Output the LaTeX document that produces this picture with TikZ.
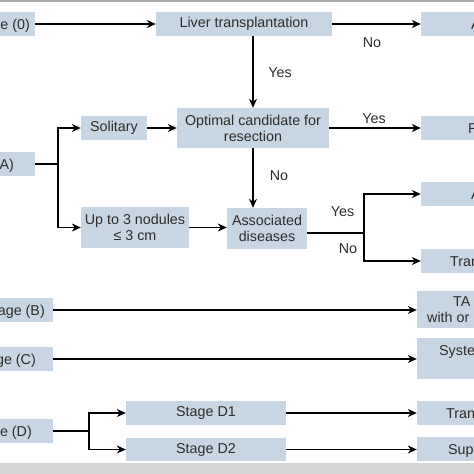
\documentclass[tikz,border=0pt]{standalone}
\usepackage{fontspec}
\setmainfont{Liberation Sans}
\usetikzlibrary{arrows.meta,calc}
\definecolor{boxfill}{RGB}{200,213,226}
\definecolor{txt}{RGB}{45,45,45}
\definecolor{bandtop}{RGB}{170,170,170}
\definecolor{bandbot}{RGB}{214,214,214}
\tikzset{
  box/.style={fill=boxfill, draw=none, inner sep=0pt, text=txt, align=center,
    font=\fontsize{14.3}{16}\selectfont},
  frag/.style={inner sep=0pt, text=txt, font=\fontsize{14.3}{16}\selectfont,
    text height=13.2pt, text depth=3pt},
  lab/.style={inner sep=0pt, text=txt, font=\fontsize{14.3}{16}\selectfont},
  arr/.style={-{Stealth[length=9pt,width=8pt]}, line width=1.2pt, black},
  ln/.style={line width=1.2pt, black},
}
\begin{document}
\begin{tikzpicture}[x=1pt,y=-1pt]
\useasboundingbox (0,0) rectangle (474,474);
\begin{scope}
\clip (0,0) rectangle (474,474);
\fill[white] (0,0) rectangle (474,474);
\fill[bandtop] (0,0) rectangle (474,2);
\fill[bandbot] (0,463) rectangle (474,474);

% centre boxes
\node[box, minimum width=176pt, minimum height=24pt] (liver) at (244,24) {Liver transplantation};
\node[box, minimum width=66pt, minimum height=24pt] (sol) at (114,128) {Solitary};
\node[box, minimum width=152pt, minimum height=40pt] (opt) at (253,128) {Optimal candidate for\\resection};
\node[box, minimum width=108pt, minimum height=41pt] (up3) at (135,227.5) {Up to 3 nodules\\≤ 3 cm};
\node[box, minimum width=80pt, minimum height=41pt] (assoc) at (267,228.5) {Associated\\diseases};
\node[box, minimum width=160pt, minimum height=24pt] (d1) at (206,413) {Stage D1};
\node[box, minimum width=160pt, minimum height=23pt] (d2) at (206,449.5) {Stage D2};

% left (cropped) boxes
\node[box, minimum width=95pt, minimum height=24pt] (s0) at (-12.5,24) {};
\node[box, minimum width=95pt, minimum height=24pt] (sA) at (-12.5,164) {};
\node[box, minimum width=113pt, minimum height=24pt] (sB) at (-3.5,310) {};
\node[box, minimum width=113pt, minimum height=24pt] (sC) at (-3.5,359) {};
\node[box, minimum width=113pt, minimum height=24pt] (sD) at (-3.5,431) {};
\node[frag, anchor=east] (f0) at (30,24) {e (0)};
\node[frag, anchor=east] (fA) at (14,164) {A)};
\node[frag, anchor=east] (fB) at (45,310) {age (B)};
\node[frag, anchor=east] (fC) at (36,359) {ge (C)};
\node[frag, anchor=east] (fD) at (32,431) {ge (D)};

% right (cropped) boxes
\node[box, minimum width=119pt, minimum height=24pt] (r0) at (480.5,24) {};
\node[box, minimum width=119pt, minimum height=24pt] (r1) at (480.5,128) {};
\node[box, minimum width=119pt, minimum height=24pt] (r2) at (480.5,194) {};
\node[box, minimum width=119pt, minimum height=24pt] (r3) at (480.5,261) {};
\node[box, minimum width=123pt, minimum height=37pt] (rB) at (478.5,309.5) {};
\node[box, minimum width=123pt, minimum height=41pt] (rC) at (478.5,358.5) {};
\node[box, minimum width=123pt, minimum height=24pt] (rD1) at (478.5,413) {};
\node[box, minimum width=123pt, minimum height=24pt] (rD2) at (478.5,449) {};
\node[frag, anchor=west] (g0) at (471,24) {A};
\node[frag, anchor=west] (g1) at (468,128) {F};
\node[frag, anchor=west] (g2) at (471,194) {A};
\node[frag, anchor=west] (g3) at (450,261) {Tran};
\node[frag, anchor=west] (gB1) at (453,301) {TA};
\node[frag, anchor=west] (gB2) at (427,317) {with or};
\node[frag, anchor=west] (gC) at (439,350) {Syste};
\node[frag, anchor=west] (gD1) at (446,413) {Tran};
\node[frag, anchor=west] (gD2) at (448,449) {Sup};

% labels
\node[lab] (no1) at (372,42.5) {No};
\node[lab] (yes1) at (280,73) {Yes};
\node[lab] (yes2) at (374,118.5) {Yes};
\node[lab] (no2) at (279,176) {No};
\node[lab] (yes3) at (342.5,212) {Yes};
\node[lab] (no3) at (348,249) {No};

% connectors
\draw[arr] (s0.east) -- (liver.west);
\draw[arr] (liver.east) -- (r0.west);
\draw[arr] (opt.north |- liver.south) -- (opt.north);
\draw[arr] (sol.east) -- (opt.west);
\draw[arr] (opt.east) -- (r1.west);
\draw[arr] (opt.south) -- (opt.south |- assoc.north);

\coordinate (bA) at (58,164);
\draw[ln] (sA.east) -- (bA);
\draw[arr] (bA) |- (sol.west);
\draw[arr] (bA) |- (up3.west);
\draw[arr] (up3.east) -- (up3.east -| assoc.west);

\coordinate (bB) at (364,233);
\draw[ln] (assoc.east |- bB) -- (bB);
\draw[arr] (bB) |- (r2.west);
\draw[arr] (bB) |- (r3.west);

\draw[arr] (sB.east) -- (rB.west |- sB.east);
\draw[arr] (sC.east) -- (rC.west |- sC.east);

\coordinate (bD) at (89,431);
\draw[ln] (sD.east) -- (bD);
\draw[arr] (bD) |- (d1.west);
\draw[arr] (bD) |- (d2.west);
\draw[arr] (d1.east) -- (rD1.west |- d1.east);
\draw[arr] (d2.east) -- (rD2.west |- d2.east);
\end{scope}
\end{tikzpicture}
\end{document}
